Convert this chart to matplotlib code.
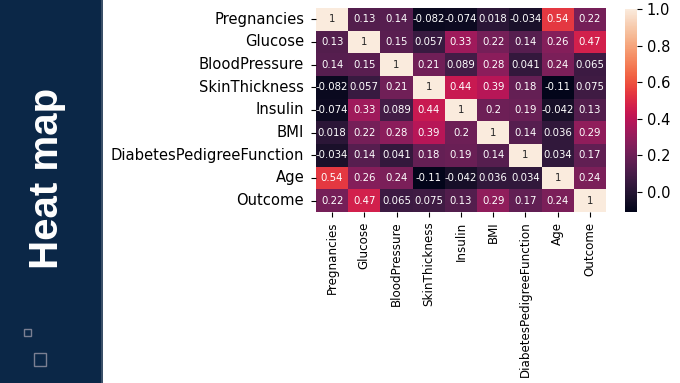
import numpy as np
import pandas as pd
import matplotlib
matplotlib.use('Agg')
import matplotlib.pyplot as plt
import seaborn as sns
from matplotlib.patches import Rectangle
from matplotlib import font_manager

# correlation values as printed in the cells
labels = ['Pregnancies', 'Glucose', 'BloodPressure', 'SkinThickness', 'Insulin',
          'BMI', 'DiabetesPedigreeFunction', 'Age', 'Outcome']
pregnancies = [1, 0.13, 0.14, -0.082, -0.074, 0.018, -0.034, 0.54, 0.22]
glucose = [0.13, 1, 0.15, 0.057, 0.33, 0.22, 0.14, 0.26, 0.47]
blood_pressure = [0.14, 0.15, 1, 0.21, 0.089, 0.28, 0.041, 0.24, 0.065]
skin_thickness = [-0.082, 0.057, 0.21, 1, 0.44, 0.39, 0.18, -0.11, 0.075]
insulin = [-0.074, 0.33, 0.089, 0.44, 1, 0.2, 0.19, -0.042, 0.13]
bmi = [0.018, 0.22, 0.28, 0.39, 0.2, 1, 0.14, 0.036, 0.29]
dpf = [-0.034, 0.14, 0.041, 0.18, 0.19, 0.14, 1, 0.034, 0.17]
age = [0.54, 0.26, 0.24, -0.11, -0.042, 0.036, 0.034, 1, 0.24]
outcome = [0.22, 0.47, 0.065, 0.075, 0.13, 0.29, 0.17, 0.24, 1]

corr = pd.DataFrame([pregnancies, glucose, blood_pressure, skin_thickness, insulin,
                     bmi, dpf, age, outcome], index=labels, columns=labels)

# x labels in the picture are narrower than the y labels
try:
    font_manager.findfont('DejaVu Sans Condensed', fallback_to_default=False)
    xfont, xsize = 'DejaVu Sans Condensed', 9.6
except Exception:
    xfont, xsize = 'DejaVu Sans', 8.6

W, H = 680, 383
fig = plt.figure(figsize=(W / 100, H / 100), dpi=100)
fig.patch.set_facecolor('white')

# left navy side panel
fig.patches.append(Rectangle((0, 0), 102 / W, 1, transform=fig.transFigure,
                             facecolor='#0b2747', edgecolor='none', zorder=0))
fig.patches.append(Rectangle((101 / W, 0), 1.5 / W, 1, transform=fig.transFigure,
                             facecolor='#3a5068', edgecolor='none', zorder=0))
fig.text(47 / W, 1 - 178 / H, 'Heat map', rotation=90, color='white',
         fontsize=29, fontweight='bold', family='Liberation Sans',
         ha='center', va='center')
fig.patches.append(Rectangle((23.5 / W, 1 - 336 / H), 7.5 / W, 7.5 / H, transform=fig.transFigure,
                             facecolor='none', edgecolor='#7b7f92', lw=1.0))
fig.patches.append(Rectangle((34 / W, 1 - 365.5 / H), 11.5 / W, 12.5 / H, transform=fig.transFigure,
                             facecolor='none', edgecolor='#7b7f92', lw=1.0))

ax = fig.add_axes([316 / W, 1 - 212 / H, 290 / W, 204 / H])
cax = fig.add_axes([625 / W, 1 - 212 / H, 12 / W, 203 / H])
sns.heatmap(corr, annot=True, ax=ax, cbar_ax=cax, annot_kws={'fontsize': 7.3})
ax.tick_params(length=3.5)
ax.tick_params(axis='y', pad=5)
ax.set_xticklabels(labels, rotation=90, family=xfont, fontsize=xsize)
ax.set_yticklabels(labels, rotation=0, fontsize=10.6)
cax.tick_params(labelsize=10.5, length=3.5)
cax.set_yticks([0.0, 0.2, 0.4, 0.6, 0.8, 1.0])

plt.savefig('out.png', dpi=100)
